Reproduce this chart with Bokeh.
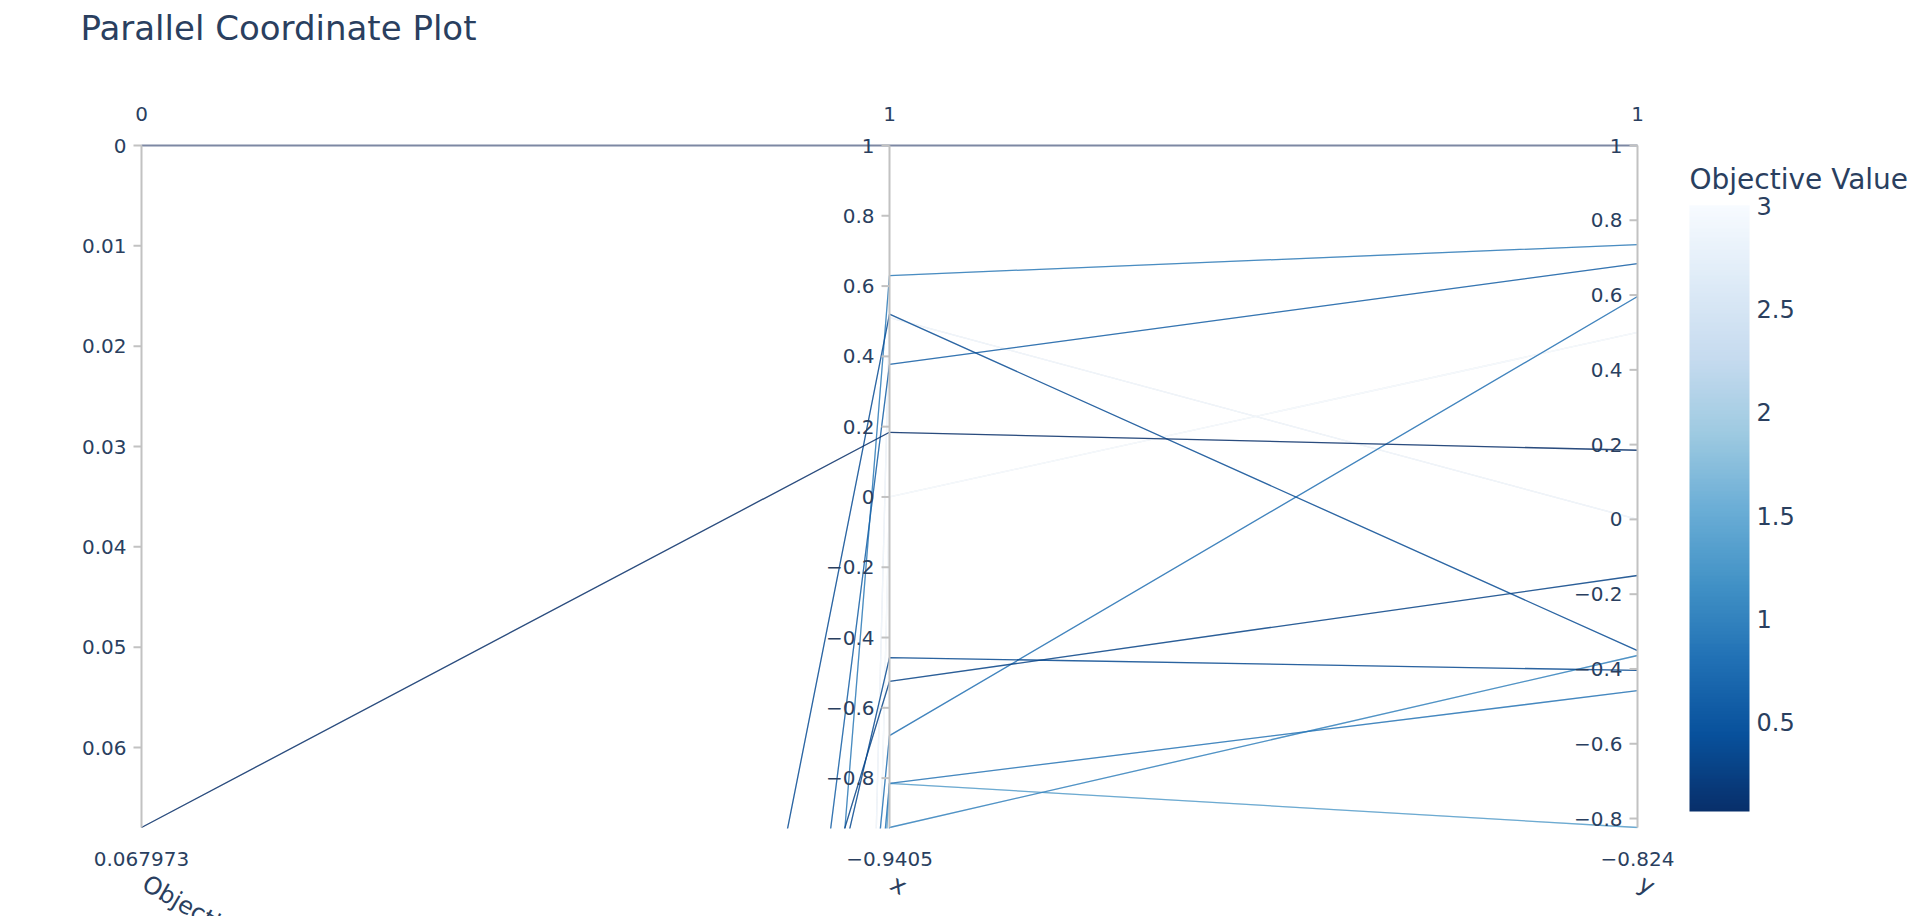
import numpy as np
from bokeh.plotting import figure
from bokeh.models import Range1d, ColumnDataSource, LinearColorMapper
from bokeh.core.properties import value
from bokeh.transform import linear_cmap
from bokeh.embed import file_html
from bokeh.resources import INLINE

# ---------------- data ----------------
title_text = "Parallel Coordinate Plot"
axis_names = ["Objective Value", "x", "y"]

objective = [0.067973, 0.937, 0.610, 0.393, 3.00, 2.90, 0.372, 0.298, 0.816, 0.874, 1.343, 1.017]
x_vals    = [0.184, 0.630, 0.377, 0.520, 0.000, 0.510, -0.457, -0.525, -0.679, -0.815, -0.815, -0.9405]
y_vals    = [0.185, 0.735, 0.684, -0.351, 0.500, 0.000, -0.404, -0.150, 0.596, -0.458, -0.824, -0.364]

# axis ranges as (top, bottom)
axis_ranges = [(0.0, 0.067973), (1.0, -0.9405), (1.0, -0.824)]
range_labels_top = ["0", "1", "1"]
range_labels_bottom = ["0.067973", "\u22120.9405", "\u22120.824"]

obj_ticks = [0.0, 0.01, 0.02, 0.03, 0.04, 0.05, 0.06]
obj_tick_labels = ["0", "0.01", "0.02", "0.03", "0.04", "0.05", "0.06"]
xy_ticks = [1.0, 0.8, 0.6, 0.4, 0.2, 0.0, -0.2, -0.4, -0.6, -0.8]
xy_tick_labels = ["1", "0.8", "0.6", "0.4", "0.2", "0",
                  "\u22120.2", "\u22120.4", "\u22120.6", "\u22120.8"]

cb_low, cb_high = 0.067973, 3.0
cb_ticks = [0.5, 1.0, 1.5, 2.0, 2.5, 3.0]
cb_tick_labels = ["0.5", "1", "1.5", "2", "2.5", "3"]

blues = [(247, 251, 255), (222, 235, 247), (198, 219, 239), (158, 202, 225),
         (107, 174, 214), (66, 146, 198), (33, 113, 181), (8, 81, 156), (8, 48, 107)]

# ---------------- layout constants (page pixels) ----------------
W, H = 1926, 916
AX_X0, AX_DX = 141.0, 748.0          # page x of first axis, spacing
AX_TOP, AX_BOT = 145.0, 827.0        # page y of axis top / bottom
AX_H = AX_BOT - AX_TOP
FONT = value("DejaVu Sans")
TXT = "#2a3f5f"
AXC = "#c2c2c2"
BL = 0.35                            # baseline correction (em)

def px(page_x):
    return (page_x - AX_X0) / AX_DX

def py(page_y):
    return (AX_BOT - page_y) / AX_H

def base(page_y, size):
    return py(page_y - BL * size)

def norm(v, rng):
    top, bot = rng
    return (v - bot) / (top - bot)

# palette: reversed Blues, interpolated
stops = blues[::-1]
palette = []
for i in range(256):
    t = i / 255 * (len(stops) - 1)
    k = min(int(t), len(stops) - 2)
    f = t - k
    c = [round(stops[k][j] + (stops[k + 1][j] - stops[k][j]) * f) for j in range(3)]
    palette.append("#%02x%02x%02x" % tuple(c))
mapper = LinearColorMapper(palette=palette, low=cb_low, high=cb_high)

p = figure(width=W, height=H, output_backend="svg", toolbar_location=None,
           x_range=Range1d(px(0), px(W)), y_range=Range1d(py(H), py(0)),
           x_axis_location=None, y_axis_location=None, min_border=0)
p.grid.visible = False
p.outline_line_color = None
p.background_fill_color = "white"
p.border_fill_color = "white"

# ---------------- lines ----------------
order = np.argsort(objective)[::-1]
xs, ys, objs = [], [], []
for i in order:
    vals = [objective[i], x_vals[i], y_vals[i]]
    xs.append([0, 1, 2])
    ys.append([norm(v, r) for v, r in zip(vals, axis_ranges)])
    objs.append(objective[i])
src = ColumnDataSource(dict(xs=xs, ys=ys, obj=objs))
p.multi_line(xs="xs", ys="ys", source=src, line_width=1.3, line_alpha=0.13, line_color="#40506a")
p.multi_line(xs="xs", ys="ys", source=src, line_width=1.3, line_alpha=0.85,
             line_color=linear_cmap("obj", palette, cb_low, cb_high))

# mask: lines leave the axis box below; hide what is outside it
p.quad(left=px(0), right=px(W), bottom=py(H), top=py(AX_BOT + 1),
       fill_color="white", line_color=None)

# top line across axis tops
p.line([0, 2], [1, 1], line_color="#7d88a3", line_width=2.2)

# axes
p.segment(x0=[0, 1, 2], y0=[0, 0, 0], x1=[0, 1, 2], y1=[1, 1, 1],
          line_color=AXC, line_width=2)

# ticks + labels
tick_len = 8 / AX_DX
tx0, tx1, tyy, tl_x, tl_y, tl_t = [], [], [], [], [], []
for ai, (ticks, labels) in enumerate([(obj_ticks, obj_tick_labels),
                                      (xy_ticks, xy_tick_labels),
                                      (xy_ticks, xy_tick_labels)]):
    for t, lab in zip(ticks, labels):
        yy = norm(t, axis_ranges[ai])
        tx0.append(ai - tick_len)
        tx1.append(ai)
        tyy.append(yy)
        tl_x.append(ai - 15 / AX_DX)
        tl_y.append(yy - (7 - BL * 20) / AX_H)
        tl_t.append(lab)
p.segment(x0=tx0, y0=tyy, x1=tx1, y1=tyy, line_color=AXC, line_width=2)
p.text(x=tl_x, y=tl_y, text=tl_t, text_align="right", text_baseline="alphabetic",
       text_font=FONT, text_font_size=value("20px"), text_color=TXT)

# range labels
p.text(x=[0, 1, 2], y=[base(120, 20)] * 3, text=range_labels_top, text_align="center",
       text_baseline="alphabetic", text_font=FONT, text_font_size=value("20px"), text_color=TXT)
p.text(x=[0, 1, 2], y=[base(865, 20)] * 3, text=range_labels_bottom, text_align="center",
       text_baseline="alphabetic", text_font=FONT, text_font_size=value("20px"), text_color=TXT)

# axis titles (rotated)
p.text(x=[ai + 10 / AX_DX for ai in range(3)], y=[py(869)] * 3, text=axis_names,
       angle=-np.pi / 6, text_align="left", text_baseline="top", text_font=FONT,
       text_font_size=value("24px"), text_color=TXT)

# ---------------- colorbar ----------------
cb_left, cb_right = px(1689), px(1749)
cb_bot, cb_top = py(811), py(205)
grad = np.linspace(cb_low, cb_high, 400).reshape(400, 1)
p.image(image=[grad], x=cb_left, y=cb_bot, dw=cb_right - cb_left, dh=cb_top - cb_bot,
        color_mapper=mapper)

def cb_y(v):
    return cb_bot + (np.asarray(v, dtype=float) - cb_low) / (cb_high - cb_low) * (cb_top - cb_bot)

p.text(x=[px(1756)] * len(cb_ticks), y=list(cb_y(cb_ticks) - (8.5 - BL * 24) / AX_H),
       text=cb_tick_labels, text_align="left", text_baseline="alphabetic", text_font=FONT,
       text_font_size=value("24px"), text_color=TXT)
p.text(x=[px(1689)], y=[base(189, 28)], text=["Objective Value"], text_align="left",
       text_baseline="alphabetic", text_font=FONT, text_font_size=value("28px"), text_color=TXT)

# title
p.text(x=[px(80)], y=[base(39, 34)], text=[title_text], text_align="left",
       text_baseline="alphabetic", text_font=FONT, text_font_size=value("34px"), text_color=TXT)

open("out.html", "w").write(file_html(p, INLINE))
